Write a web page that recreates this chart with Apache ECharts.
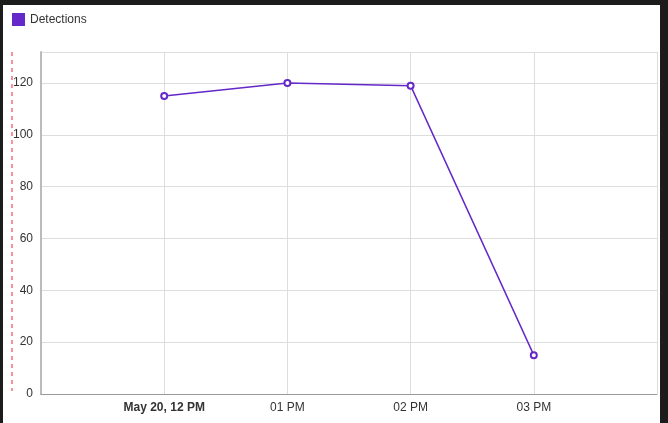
<!DOCTYPE html><html><head><meta charset="utf-8">
<script src="https://cdn.jsdelivr.net/npm/echarts@6/dist/echarts.min.js"></script>
<style>html,body{margin:0;padding:0;background:#1c1c1c;width:668px;height:423px;overflow:hidden}
#c{position:absolute;left:3px;top:5px;width:657px;height:418px;background:#fff}</style></head><body>
<div id="c"></div>
<script>
const hours=[12,13,14,15];
const detections=[115,120,119,15];
const xLabels={12:'May 20, 12 PM',13:'01 PM',14:'02 PM',15:'03 PM'};
const chart=echarts.init(document.getElementById('c'));
chart.setOption({
 animation:false,
 legend:{left:4,top:3,itemWidth:13,itemHeight:13,icon:'rect',itemGap:6,textStyle:{color:'#333',fontSize:12,fontFamily:'Helvetica, Arial, sans-serif'},data:['Detections']},
 grid:{left:38,right:3,top:47,bottom:29},
 xAxis:{type:'value',min:11,max:16,interval:1,
  axisLine:{lineStyle:{color:'#999'}},axisTick:{show:false},
  splitLine:{lineStyle:{color:'#ddd'}},
  axisLabel:{color:'#333',fontSize:12,margin:8,fontFamily:'Helvetica, Arial, sans-serif',
   formatter:v=>v===12?'{b|'+xLabels[v]+'}':(xLabels[v]||''),
   rich:{b:{fontWeight:'bold',color:'#333',fontSize:12,fontFamily:'Helvetica, Arial, sans-serif'}}}
 },
 yAxis:{type:'value',min:0,max:132,interval:20,
  axisLine:{show:true,lineStyle:{color:'#bbb',width:2}},axisTick:{show:false},
  splitLine:{lineStyle:{color:'#ddd'}},
  axisLabel:{color:'#333',fontSize:12,margin:8,fontFamily:'Helvetica, Arial, sans-serif',formatter:v=>v%20===0&&v<=120?v:''}},
 graphic:[{type:'line',shape:{x1:9,y1:47,x2:9,y2:386},style:{stroke:'#f0707a',lineWidth:1.5,lineDash:[4,4]}}],
 series:[{name:'Detections',type:'line',data:hours.map((h,i)=>[h,detections[i]]),
  color:'#6528c9',symbol:'emptyCircle',symbolSize:6,lineStyle:{width:1.5,color:'#6528c9'},itemStyle:{color:'#6528c9',borderWidth:1.5}}]
});
</script></body></html>
